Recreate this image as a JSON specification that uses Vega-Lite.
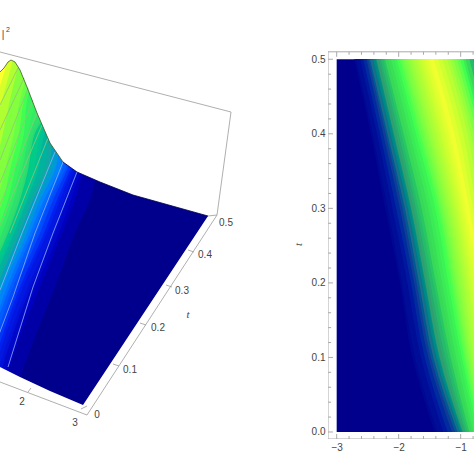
{"$schema":"https://vega.github.io/schema/vega-lite/v6.json","padding":0,"autosize":{"type":"pad"},"background":"white","bounds":"flush","spacing":88,"config":{"view":{"stroke":null}},"resolve":{"scale":{"color":"independent"}},
"datasets":{
"surf":[
{"y":40,"v00":300,"v05":230,"v10":200,"v12":194,"v15":185,"v17":179,"v20":170,"v22":166,"v25":160,"v27":156,"v30":150,"v32":144,"v35":135,"v37":129,"v40":120,"v42":114,"v45":105,"v47":99,"v50":90,"v52":84,"v55":75,"v57":68,"v60":60,"v65":50,"v70":40,"v80":25,"v90":18,"v100":14},
{"y":100,"v00":300,"v05":175,"v10":150,"v12":144,"v15":135,"v17":129,"v20":120,"v22":116,"v25":110,"v27":106,"v30":100,"v32":96,"v35":90,"v37":86,"v40":80,"v42":76,"v45":70,"v47":66,"v50":60,"v52":54,"v55":44,"v57":36,"v60":27,"v65":24,"v70":20,"v80":10,"v90":2,"v100":-5},
{"y":133,"v00":300,"v05":140,"v10":115,"v12":110,"v15":103,"v17":98,"v20":90,"v22":86,"v25":81,"v27":77,"v30":72,"v32":69,"v35":63,"v37":60,"v40":55,"v42":51,"v45":45,"v47":41,"v50":35,"v52":33,"v55":30,"v57":28,"v60":24,"v65":19,"v70":14,"v80":3,"v90":-8,"v100":-18},
{"y":170,"v00":300,"v05":100,"v10":85,"v12":82,"v15":78,"v17":75,"v20":72,"v22":70,"v25":67,"v27":65,"v30":62,"v32":59,"v35":55,"v37":52,"v40":48,"v42":44,"v45":38,"v47":34,"v50":28,"v52":26,"v55":22,"v57":19,"v60":15,"v65":10,"v70":5,"v80":-6,"v90":-17,"v100":-28},
{"y":200,"v00":300,"v05":90,"v10":75,"v12":71,"v15":67,"v17":64,"v20":60,"v22":57,"v25":53,"v27":50,"v30":47,"v32":44,"v35":40,"v37":37,"v40":33,"v42":30,"v45":27,"v47":24,"v50":20,"v52":18,"v55":14,"v57":11,"v60":8,"v65":3,"v70":-3,"v80":-14,"v90":-25,"v100":-35},
{"y":233,"v00":300,"v05":75,"v10":62,"v12":59,"v15":55,"v17":52,"v20":47,"v22":44,"v25":40,"v27":37,"v30":33,"v32":30,"v35":27,"v37":24,"v40":20,"v42":17,"v45":14,"v47":11,"v50":8,"v52":6,"v55":2,"v57":-1,"v60":-4,"v65":-10,"v70":-16,"v80":-28,"v90":-40,"v100":-50},
{"y":287,"v00":300,"v05":55,"v10":40,"v12":36,"v15":31,"v17":28,"v20":23,"v22":20,"v25":16,"v27":13,"v30":10,"v32":7,"v35":3,"v37":0,"v40":-3,"v42":-5,"v45":-9,"v47":-11,"v50":-15,"v52":-17,"v55":-20,"v57":-22,"v60":-25,"v65":-30,"v70":-35,"v80":-45,"v90":-55,"v100":-65},
{"y":337,"v00":300,"v05":35,"v10":20,"v12":17,"v15":12,"v17":9,"v20":5,"v22":2,"v25":-2,"v27":-4,"v30":-8,"v32":-10,"v35":-14,"v37":-16,"v40":-20,"v42":-22,"v45":-25,"v47":-27,"v50":-30,"v52":-32,"v55":-35,"v57":-37,"v60":-40,"v65":-45,"v70":-50,"v80":-60,"v90":-70,"v100":-80},
{"y":420,"v00":300,"v05":5,"v10":-5,"v12":-8,"v15":-12,"v17":-15,"v20":-20,"v22":-22,"v25":-25,"v27":-27,"v30":-30,"v32":-32,"v35":-35,"v37":-37,"v40":-40,"v42":-42,"v45":-45,"v47":-47,"v50":-50,"v52":-52,"v55":-55,"v57":-57,"v60":-60,"v65":-65,"v70":-70,"v80":-80,"v90":-90,"v100":-100}
],
"upper":[{"u":0,"v":72},{"u":4,"v":68},{"u":8,"v":62},{"u":11,"v":60},{"u":15,"v":62},{"u":20,"v":70},{"u":27,"v":87},{"u":37,"v":113},{"u":50,"v":143},{"u":63,"v":162},{"u":77,"v":172},{"u":100,"v":182},{"u":133,"v":195},{"u":208,"v":216},{"u":240,"v":216}],
"lower":[{"u":0,"v":367},{"u":20,"v":377},{"u":50,"v":391},{"u":83,"v":405},{"u":208,"v":216},{"u":240,"v":216}],
"lines":[
{"id":"top","kind":"box","u":0,"v":52},{"id":"top","kind":"box","u":231,"v":112},
{"id":"right","kind":"box","u":231,"v":112},{"id":"right","kind":"box","u":217,"v":215},
{"id":"taxis","kind":"box","u":87,"v":415},{"id":"taxis","kind":"box","u":217,"v":215},
{"id":"xaxis","kind":"box","u":0,"v":382},{"id":"xaxis","kind":"box","u":87,"v":415},
{"id":"base","kind":"box","u":208,"v":216},{"id":"base","kind":"box","u":217,"v":215},
{"id":"t1","kind":"box","u":113,"v":364},{"id":"t1","kind":"box","u":119,"v":366},
{"id":"t2","kind":"box","u":140,"v":323},{"id":"t2","kind":"box","u":146,"v":325},
{"id":"t3","kind":"box","u":166,"v":285},{"id":"t3","kind":"box","u":172,"v":287},
{"id":"t4","kind":"box","u":188,"v":250},{"id":"t4","kind":"box","u":194,"v":252},
{"id":"x2","kind":"box","u":28,"v":392},{"id":"x2","kind":"box","u":31,"v":388},
{"id":"c0","kind":"box","u":81,"v":409},{"id":"c0","kind":"box","u":87,"v":406},
{"id":"m1","kind":"blue","u":77,"v":172},{"id":"m1","kind":"blue","u":53,"v":233},{"id":"m1","kind":"blue","u":33,"v":287},{"id":"m1","kind":"blue","u":8,"v":367},
{"id":"m2","kind":"blue","u":63,"v":162},{"id":"m2","kind":"blue","u":35,"v":233},{"id":"m2","kind":"blue","u":13,"v":297},{"id":"m2","kind":"blue","u":-5,"v":345},
{"id":"m3","kind":"blue","u":55,"v":152},{"id":"m3","kind":"blue","u":22,"v":233},{"id":"m3","kind":"blue","u":0,"v":290},
{"id":"m4","kind":"green","u":48,"v":138},{"id":"m4","kind":"green","u":10,"v":233},
{"id":"m5","kind":"green","u":42,"v":125},{"id":"m5","kind":"green","u":0,"v":225},
{"id":"m6","kind":"green","u":37,"v":113},{"id":"m6","kind":"green","u":0,"v":205},
{"id":"m7","kind":"green","u":33,"v":100},{"id":"m7","kind":"green","u":0,"v":183},
{"id":"m8","kind":"green","u":28,"v":88},{"id":"m8","kind":"green","u":0,"v":160},
{"id":"m9","kind":"green","u":24,"v":78},{"id":"m9","kind":"green","u":0,"v":130},
{"id":"m10","kind":"green","u":18,"v":68},{"id":"m10","kind":"green","u":0,"v":105},
{"id":"s1","kind":"olive","u":0,"v":72},{"id":"s1","kind":"olive","u":4,"v":68},{"id":"s1","kind":"olive","u":8,"v":62},{"id":"s1","kind":"olive","u":11,"v":60},{"id":"s1","kind":"olive","u":15,"v":62},{"id":"s1","kind":"olive","u":20,"v":70},{"id":"s1","kind":"olive","u":27,"v":87},{"id":"s1","kind":"olive","u":37,"v":113},{"id":"s1","kind":"olive","u":50,"v":143},{"id":"s1","kind":"olive","u":63,"v":162},
{"id":"s2","kind":"navy","u":63,"v":162},{"id":"s2","kind":"navy","u":77,"v":172},{"id":"s2","kind":"navy","u":100,"v":182},{"id":"s2","kind":"navy","u":133,"v":195},{"id":"s2","kind":"navy","u":208,"v":216}
],
"labels":[{"u":97,"v":415,"s":"0"},{"u":130,"v":370,"s":"0.1"},{"u":158,"v":328,"s":"0.2"},{"u":182,"v":291,"s":"0.3"},{"u":205,"v":255,"s":"0.4"},{"u":226,"v":223,"s":"0.5"},{"u":75,"v":423,"s":"3"},{"u":22,"v":402,"s":"2"},{"u":3,"v":35,"s":"|"}],
"heat":[
{"t":0.5,"L00":-3,"L03":-2.72,"L05":-2.69,"L10":-2.62,"L15":-2.57,"L20":-2.52,"L25":-2.49,"L30":-2.46,"L32":-2.43,"L35":-2.41,"L37":-2.38,"L40":-2.36,"L42":-2.32,"L45":-2.29,"L47":-2.25,"L50":-2.22,"L52":-2.17,"L55":-2.12,"L57":-2.07,"L60":-2.03,"L62":-1.99,"L65":-1.96,"L67":-1.93,"L70":-1.9,"L72":-1.86,"L75":-1.83,"L77":-1.8,"L80":-1.77,"L82":-1.73,"L85":-1.7,"L87":-1.67,"L90":-1.64,"L92":-1.6,"L95":-1.57,"L97":-1.53,"L100":-1.5,"R95":-1.43,"R90":-1.36,"R85":-1.29,"R80":-1.22,"R75":-1.17,"R70":-1.12,"R65":-1.06,"R60":-1.01,"R55":-0.96,"R50":-0.92,"R45":-0.86,"R40":-0.8},
{"t":0.4,"L00":-3,"L03":-2.45,"L05":-2.42,"L10":-2.35,"L15":-2.3,"L20":-2.25,"L25":-2.21,"L30":-2.18,"L32":-2.15,"L35":-2.13,"L37":-2.1,"L40":-2.08,"L42":-2.04,"L45":-2,"L47":-1.96,"L50":-1.92,"L52":-1.87,"L55":-1.82,"L57":-1.77,"L60":-1.72,"L62":-1.68,"L65":-1.65,"L67":-1.61,"L70":-1.58,"L72":-1.54,"L75":-1.51,"L77":-1.48,"L80":-1.45,"L82":-1.41,"L85":-1.38,"L87":-1.34,"L90":-1.31,"L92":-1.27,"L95":-1.24,"L97":-1.2,"L100":-1.17,"R95":-1.1,"R90":-1.03,"R85":-0.96,"R80":-0.89,"R75":-0.84,"R70":-0.79,"R65":-0.73,"R60":-0.68,"R55":-0.64,"R50":-0.6,"R45":-0.55,"R40":-0.5},
{"t":0.3,"L00":-3,"L03":-2.22,"L05":-2.18,"L10":-2.1,"L15":-2.04,"L20":-1.98,"L25":-1.94,"L30":-1.9,"L32":-1.87,"L35":-1.85,"L37":-1.82,"L40":-1.8,"L42":-1.76,"L45":-1.72,"L47":-1.68,"L50":-1.63,"L52":-1.58,"L55":-1.52,"L57":-1.47,"L60":-1.41,"L62":-1.37,"L65":-1.34,"L67":-1.31,"L70":-1.28,"L72":-1.25,"L75":-1.22,"L77":-1.19,"L80":-1.16,"L82":-1.13,"L85":-1.1,"L87":-1.07,"L90":-1.04,"L92":-1.01,"L95":-0.98,"L97":-0.95,"L100":-0.92,"R95":-0.86,"R90":-0.8,"R85":-0.74,"R80":-0.68,"R75":-0.62,"R70":-0.57},
{"t":0.2,"L00":-3,"L03":-1.98,"L05":-1.95,"L10":-1.86,"L15":-1.8,"L20":-1.75,"L25":-1.71,"L30":-1.67,"L32":-1.64,"L35":-1.62,"L37":-1.59,"L40":-1.57,"L42":-1.53,"L45":-1.49,"L47":-1.44,"L50":-1.4,"L52":-1.35,"L55":-1.3,"L57":-1.25,"L60":-1.2,"L62":-1.16,"L65":-1.13,"L67":-1.1,"L70":-1.07,"L72":-1.04,"L75":-1.01,"L77":-0.98,"L80":-0.95,"L82":-0.92,"L85":-0.89,"L87":-0.86,"L90":-0.83,"L92":-0.8,"L95":-0.76,"L97":-0.73,"L100":-0.7,"R95":-0.63,"R90":-0.57,"R85":-0.5,"R80":-0.45},
{"t":0.1,"L00":-3,"L03":-1.78,"L05":-1.74,"L10":-1.64,"L15":-1.58,"L20":-1.52,"L25":-1.48,"L30":-1.44,"L32":-1.41,"L35":-1.39,"L37":-1.36,"L40":-1.34,"L42":-1.29,"L45":-1.25,"L47":-1.2,"L50":-1.16,"L52":-1.11,"L55":-1.07,"L57":-1.02,"L60":-0.98,"L62":-0.95,"L65":-0.93,"L67":-0.9,"L70":-0.88,"L72":-0.85,"L75":-0.83,"L77":-0.8,"L80":-0.78,"L82":-0.74,"L85":-0.71,"L87":-0.68,"L90":-0.65,"L92":-0.61,"L95":-0.57,"L97":-0.53,"L100":-0.5},
{"t":0,"L00":-3,"L03":-1.42,"L05":-1.38,"L10":-1.28,"L15":-1.21,"L20":-1.14,"L25":-1.09,"L30":-1.05,"L32":-1.03,"L35":-1.01,"L37":-0.99,"L40":-0.97,"L42":-0.95,"L45":-0.92,"L47":-0.89,"L50":-0.86,"L52":-0.82,"L55":-0.79,"L57":-0.75,"L60":-0.72,"L62":-0.69,"L65":-0.67,"L67":-0.64,"L70":-0.62,"L72":-0.59,"L75":-0.56,"L77":-0.53,"L80":-0.5,"L82":-0.47,"L85":-0.45,"L87":-0.42,"L90":-0.4,"L92":-0.37,"L95":-0.35,"L97":-0.32,"L100":-0.3}
],
"frame":[
{"x0":-3.14,"x1":-3.14,"y0":-0.0094,"y1":0.51},{"x0":-3.14,"x1":-0.785,"y0":0.51,"y1":0.51},{"x0":-3.14,"x1":-0.785,"y0":-0.0094,"y1":-0.0094},
{"x0":-3.14,"x1":-3.06,"y0":0,"y1":0},{"x0":-3.14,"x1":-3.09,"y0":0.02,"y1":0.02},{"x0":-3.14,"x1":-3.09,"y0":0.04,"y1":0.04},{"x0":-3.14,"x1":-3.09,"y0":0.06,"y1":0.06},{"x0":-3.14,"x1":-3.09,"y0":0.08,"y1":0.08},
{"x0":-3.14,"x1":-3.06,"y0":0.1,"y1":0.1},{"x0":-3.14,"x1":-3.09,"y0":0.12,"y1":0.12},{"x0":-3.14,"x1":-3.09,"y0":0.14,"y1":0.14},{"x0":-3.14,"x1":-3.09,"y0":0.16,"y1":0.16},{"x0":-3.14,"x1":-3.09,"y0":0.18,"y1":0.18},
{"x0":-3.14,"x1":-3.06,"y0":0.2,"y1":0.2},{"x0":-3.14,"x1":-3.09,"y0":0.22,"y1":0.22},{"x0":-3.14,"x1":-3.09,"y0":0.24,"y1":0.24},{"x0":-3.14,"x1":-3.09,"y0":0.26,"y1":0.26},{"x0":-3.14,"x1":-3.09,"y0":0.28,"y1":0.28},
{"x0":-3.14,"x1":-3.06,"y0":0.3,"y1":0.3},{"x0":-3.14,"x1":-3.09,"y0":0.32,"y1":0.32},{"x0":-3.14,"x1":-3.09,"y0":0.34,"y1":0.34},{"x0":-3.14,"x1":-3.09,"y0":0.36,"y1":0.36},{"x0":-3.14,"x1":-3.09,"y0":0.38,"y1":0.38},
{"x0":-3.14,"x1":-3.06,"y0":0.4,"y1":0.4},{"x0":-3.14,"x1":-3.09,"y0":0.42,"y1":0.42},{"x0":-3.14,"x1":-3.09,"y0":0.44,"y1":0.44},{"x0":-3.14,"x1":-3.09,"y0":0.46,"y1":0.46},{"x0":-3.14,"x1":-3.09,"y0":0.48,"y1":0.48},
{"x0":-3.14,"x1":-3.06,"y0":0.5,"y1":0.5},
{"x0":-3,"x1":-3,"y0":-0.0094,"y1":-0.0027},{"x0":-2.8,"x1":-2.8,"y0":-0.0094,"y1":-0.0054},{"x0":-2.6,"x1":-2.6,"y0":-0.0094,"y1":-0.0054},{"x0":-2.4,"x1":-2.4,"y0":-0.0094,"y1":-0.0054},{"x0":-2.2,"x1":-2.2,"y0":-0.0094,"y1":-0.0054},{"x0":-2,"x1":-2,"y0":-0.0094,"y1":-0.0027},{"x0":-1.8,"x1":-1.8,"y0":-0.0094,"y1":-0.0054},{"x0":-1.6,"x1":-1.6,"y0":-0.0094,"y1":-0.0054},{"x0":-1.4,"x1":-1.4,"y0":-0.0094,"y1":-0.0054},{"x0":-1.2,"x1":-1.2,"y0":-0.0094,"y1":-0.0054},{"x0":-1,"x1":-1,"y0":-0.0094,"y1":-0.0027},{"x0":-0.8,"x1":-0.8,"y0":-0.0094,"y1":-0.0054},
{"x0":-3,"x1":-3,"y0":0.51,"y1":0.5033},{"x0":-2.8,"x1":-2.8,"y0":0.51,"y1":0.506},{"x0":-2.6,"x1":-2.6,"y0":0.51,"y1":0.506},{"x0":-2.4,"x1":-2.4,"y0":0.51,"y1":0.506},{"x0":-2.2,"x1":-2.2,"y0":0.51,"y1":0.506},{"x0":-2,"x1":-2,"y0":0.51,"y1":0.5033},{"x0":-1.8,"x1":-1.8,"y0":0.51,"y1":0.506},{"x0":-1.6,"x1":-1.6,"y0":0.51,"y1":0.506},{"x0":-1.4,"x1":-1.4,"y0":0.51,"y1":0.506},{"x0":-1.2,"x1":-1.2,"y0":0.51,"y1":0.506},{"x0":-1,"x1":-1,"y0":0.51,"y1":0.5033},{"x0":-0.8,"x1":-0.8,"y0":0.51,"y1":0.506}
]
},
"hconcat":[
{"width":240,"height":474,"layer":[
{"data":{"name":"surf"},"transform":[{"fold":["v00","v05","v10","v12","v15","v17","v20","v22","v25","v27","v30","v32","v35","v37","v40","v42","v45","v47","v50","v52","v55","v57","v60","v65","v70","v80","v90","v100"],"as":["level","pos"]},{"calculate":"toNumber(substring(datum.level,1))/100","as":"amp"}],
"mark":{"type":"area","orient":"horizontal","clip":true,"interpolate":"monotone"},
"encoding":{"y":{"field":"y","type":"quantitative","scale":{"domain":[474,0],"nice":false,"zero":false},"axis":null},
"x":{"field":"pos","type":"quantitative","stack":null,"scale":{"domain":[0,240],"nice":false,"zero":false},"axis":null},
"x2":{"datum":-130},
"detail":{"field":"level"},
"color":{"field":"amp","type":"quantitative","legend":null,"scale":{"domain":[0,0.1,0.2,0.3,0.4,0.5,0.6,0.8,1],"range":["#00008c","#0000c0","#0020f0","#0070ff","#10a8a0","#30d870","#40ff50","#b0ff30","#ffff30"]}}}},
{"data":{"name":"upper"},"mark":{"type":"area","color":"white","clip":true},"encoding":{"x":{"field":"u","type":"quantitative","scale":{"domain":[0,240],"nice":false,"zero":false},"axis":null},"y":{"field":"v","type":"quantitative","scale":{"domain":[474,0],"nice":false,"zero":false},"axis":null},"y2":{"datum":0}}},
{"data":{"name":"lower"},"mark":{"type":"area","color":"white","clip":true},"encoding":{"x":{"field":"u","type":"quantitative","axis":null},"y":{"field":"v","type":"quantitative","axis":null},"y2":{"datum":474}}},
{"data":{"name":"lines"},"mark":{"type":"line","strokeWidth":0.8,"clip":true},"encoding":{"x":{"field":"u","type":"quantitative","axis":null},"y":{"field":"v","type":"quantitative","axis":null},"detail":{"field":"id"},"order":{"field":"u"},
"color":{"field":"kind","type":"nominal","legend":null,"scale":{"domain":["box","blue","green","olive","navy"],"range":["#9a9a9a","#8fb0ff","#8fc878","#3c5a1e","#000050"]}}}},
{"data":{"name":"labels"},"mark":{"type":"text","font":"Liberation Sans","fontSize":10,"color":"#444444"},"encoding":{"x":{"field":"u","type":"quantitative","axis":null},"y":{"field":"v","type":"quantitative","axis":null},"text":{"field":"s"}}},
{"data":{"values":[{"u":188,"v":315,"s":"t"}]},"mark":{"type":"text","font":"Liberation Serif","fontStyle":"italic","fontSize":11,"color":"#444444"},"encoding":{"x":{"field":"u","type":"quantitative","axis":null},"y":{"field":"v","type":"quantitative","axis":null},"text":{"field":"s"}}},
{"data":{"values":[{"u":8,"v":30,"s":"2"}]},"mark":{"type":"text","font":"Liberation Sans","fontSize":7,"color":"#444444"},"encoding":{"x":{"field":"u","type":"quantitative","axis":null},"y":{"field":"v","type":"quantitative","axis":null},"text":{"field":"s"}}}
],"resolve":{"scale":{"color":"independent"}}},
{"width":146,"height":439,"layer":[
{"data":{"name":"heat"},"transform":[{"fold":["L00","L03","L05","L10","L15","L20","L25","L30","L32","L35","L37","L40","L42","L45","L47","L50","L52","L55","L57","L60","L62","L65","L67","L70","L72","L75","L77","L80","L82","L85","L87","L90","L92","L95","L97","L100","R95","R90","R85","R80","R75","R70","R65","R60","R55","R50","R45","R40"],"as":["level","pos"]},{"calculate":"toNumber(substring(datum.level,1))/100","as":"amp"}],
"mark":{"type":"area","orient":"horizontal","clip":true,"interpolate":"monotone"},
"encoding":{"y":{"field":"t","type":"quantitative","scale":{"domain":[-0.0094,0.5795],"nice":false,"zero":false},"axis":{"values":[0,0.1,0.2,0.3,0.4,0.5],"format":".1f","grid":false,"ticks":false,"domain":false,"labelFont":"Liberation Sans","labelFontSize":10,"labelColor":"#444444","labelPadding":3,"title":"t","titleFont":"Liberation Serif","titleFontStyle":"italic","titleFontWeight":"normal","titleFontSize":11,"titleColor":"#444444","titleY":244,"titleX":-25}},
"x":{"field":"pos","type":"quantitative","stack":null,"scale":{"domain":[-3.14,-0.785],"nice":false,"zero":false},"axis":{"values":[-3,-2,-1],"format":"d","grid":false,"ticks":false,"domain":false,"labelFont":"Liberation Sans","labelFontSize":10,"labelColor":"#444444","labelPadding":3,"title":null}},
"x2":{"datum":0},
"detail":{"field":"level"},
"color":{"field":"amp","type":"quantitative","legend":null,"scale":{"domain":[0,0.1,0.2,0.3,0.4,0.5,0.6,0.8,1],"range":["#00008c","#0018a0","#103c98","#206c88","#309e70","#38d858","#40ff50","#a8ff38","#f0ff30"]}}}},
{"data":{"name":"frame"},"mark":{"type":"rule","color":"#aaaaaa","strokeWidth":1,"clip":true},"encoding":{"x":{"field":"x0","type":"quantitative"},"x2":{"field":"x1"},"y":{"field":"y0","type":"quantitative"},"y2":{"field":"y1"}}}
]}
]}
